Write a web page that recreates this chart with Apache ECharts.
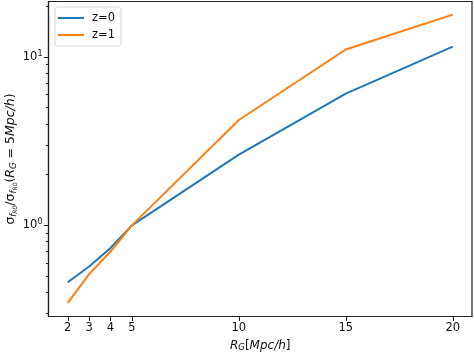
<!DOCTYPE html>
<html>
<head>
<meta charset="utf-8">
<script src="https://cdn.jsdelivr.net/npm/echarts@6/dist/echarts.min.js"></script>
<style>
  html, body { margin: 0; padding: 0; background: #fff; }
  #main { width: 474px; height: 354px; }
</style>
</head>
<body>
<div id="main"></div>
<script>
// data
const radii = [2, 3, 4, 5, 10, 15, 20];
const z0 = [0.46, 0.57, 0.735, 1.0, 2.63, 6.05, 11.5];
const z1 = [0.347, 0.514, 0.70, 1.0, 4.22, 11.05, 17.8];
const majorTicks = [1, 10];
const minorTicks = [0.3, 0.4, 0.5, 0.6, 0.7, 0.8, 0.9, 2, 3, 4, 5, 6, 7, 8, 9, 20];

const font = 'DejaVu Sans';
const chartDom = document.getElementById('main');
const myChart = echarts.init(chartDom);

const yRange = { min: 0.288, max: 21.3 };

const option = {
    animation: false,
    textStyle: { fontFamily: font },
    grid: {
        left: 48.5, right: 2, top: 1.5, bottom: 37.5,
        outerBoundsMode: 'none',
        show: true, borderColor: '#222', borderWidth: 1.2, backgroundColor: 'transparent'
    },
    legend: {
        left: 55, top: 7,
        orient: 'vertical',
        itemWidth: 26, itemHeight: 2, itemGap: 5,
        padding: [5, 6, 5, 3],
        borderColor: '#d6d6d6', borderWidth: 1, borderRadius: 3,
        backgroundColor: 'rgba(255,255,255,0.8)',
        icon: 'rect',
        textStyle: { fontFamily: font, fontSize: 11.5, color: '#111', padding: [0, 0, 0, 3] },
        data: ['z=0', 'z=1']
    },
    xAxis: {
        type: 'value', min: 1.1, max: 20.9,
        name: '{i|R}{sub|G}{n|[}{i|Mpc/h}{n|]}',
        nameLocation: 'middle', nameGap: 22, nameMoveOverlap: false,
        nameTextStyle: {
            rich: {
                i: { fontFamily: font, fontStyle: 'italic', fontSize: 12, color: '#111' },
                n: { fontFamily: font, fontSize: 12, color: '#111' },
                sub: { fontFamily: font, fontStyle: 'italic', fontSize: 8.5, color: '#111', verticalAlign: 'bottom', padding: [5, 0, 0, 0] }
            }
        },
        splitLine: { show: false },
        axisLine: { onZero: false, lineStyle: { color: '#222', width: 1.2 } },
        axisTick: { customValues: radii, length: 4.5, lineStyle: { color: '#222' } },
        axisLabel: { customValues: radii, fontFamily: font, fontSize: 11.5, color: '#111', margin: 6 }
    },
    yAxis: [{
        type: 'log', logBase: 10, min: yRange.min, max: yRange.max,
        name: '{s|σ}{sub|f}{sub2|R0}{s|/σ}{sub|f}{sub2|R0}{s|(}{i|R}{sub|G}{s| = 5}{i|Mpc/h}{s|)}',
        nameLocation: 'middle', nameGap: 30, nameRotate: 90, nameMoveOverlap: false,
        nameTextStyle: {
            rich: {
                s: { fontFamily: font, fontSize: 12.5, color: '#111' },
                i: { fontFamily: font, fontStyle: 'italic', fontSize: 12.5, color: '#111' },
                sub: { fontFamily: font, fontStyle: 'italic', fontSize: 8.5, color: '#111', verticalAlign: 'bottom', padding: [5, 0, 0, 0] },
                sub2: { fontFamily: font, fontStyle: 'italic', fontSize: 6, color: '#111', verticalAlign: 'bottom', padding: [9, 0, 0, 0] }
            }
        },
        splitLine: { show: false },
        axisLine: { lineStyle: { color: '#222', width: 1.2 } },
        axisTick: { customValues: majorTicks, length: 4.5, lineStyle: { color: '#222' } },
        axisLabel: {
            customValues: majorTicks,
            margin: 6,
            formatter: v => '{b|10}{sup|' + Math.round(Math.log10(v)) + '}',
            rich: {
                b: { fontFamily: font, fontSize: 11.5, color: '#111' },
                sup: { fontFamily: font, fontSize: 8, color: '#111', verticalAlign: 'top', padding: [0, 0, 6, 0] }
            }
        }
    }, {
        // minor ticks of the log axis
        type: 'log', logBase: 10, min: yRange.min, max: yRange.max,
        position: 'left',
        splitLine: { show: false },
        axisLine: { show: false },
        axisLabel: { show: false },
        axisTick: { customValues: minorTicks, length: 2.5, lineStyle: { color: '#222' } }
    }],
    series: [
        {
            name: 'z=0', type: 'line', color: '#1f77b4',
            data: radii.map((r, i) => [r, z0[i]]),
            showSymbol: false, lineStyle: { width: 2 }
        },
        {
            name: 'z=1', type: 'line', color: '#ff7f0e',
            data: radii.map((r, i) => [r, z1[i]]),
            showSymbol: false, lineStyle: { width: 2 }
        }
    ]
};
option && myChart.setOption(option);
</script>
</body>
</html>
